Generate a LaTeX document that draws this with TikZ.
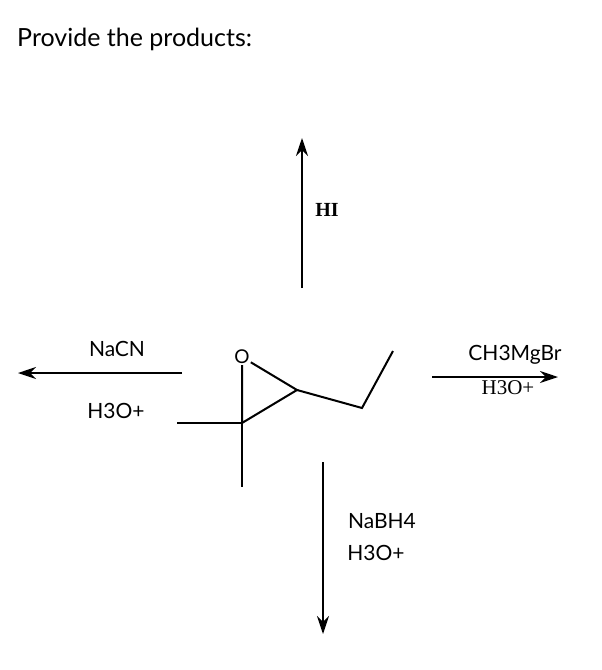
\documentclass[tikz,border=0pt]{standalone}
\usepackage{fontspec}
\setmainfont{Lato}
\newfontfamily\serifx{Liberation Serif}
\usetikzlibrary{arrows.meta}
\begin{document}
\begin{tikzpicture}[x=1pt,y=-1pt,
  bond/.style={line width=2pt},
  rarrow/.style={line width=1.6pt,-{Stealth[length=18pt,width=12pt]}},
  lbl/.style={font=\fontsize{21}{24}\selectfont,inner sep=0pt},
  slbl/.style={font=\serifx\fontsize{21}{24}\selectfont,inner sep=0pt}]
\useasboundingbox[fill=white] (0,0) rectangle (602,670);
\node[anchor=west,inner sep=0pt,font=\fontsize{25}{28}\selectfont] (title) at (17,39) {Provide the products:};
% molecule
\node[inner sep=1pt,font=\fontsize{19}{20}\selectfont] (O) at (242,357) {O};
\coordinate (c1) at (242,423);
\coordinate (c2) at (297,390);
\coordinate (c3) at (362,408);
\coordinate (c4) at (393,351);
\coordinate (m1) at (177,423);
\coordinate (m2) at (242,487);
\draw[bond] (O) -- (c1) -- (c2) -- (O);
\draw[bond] (c2) -- (c3) -- (c4);
\draw[bond] (m1) -- (c1) -- (m2);
% HI
\coordinate (hs) at (302,288); \coordinate (he) at (302,138);
\draw[rarrow] (hs) -- (he);
\node[slbl,font=\serifx\bfseries\fontsize{20}{24}\selectfont] (hi) at (327,210) {HI};
% left
\coordinate (ls) at (182,373); \coordinate (le) at (18,373);
\draw[rarrow] (ls) -- (le);
\node[lbl] (nacn) at (117,349) {NaCN};
\node[lbl] (h1) at (116,411) {H3O+};
% right
\coordinate (rs) at (432,377); \coordinate (re) at (558,377);
\draw[rarrow] (rs) -- (re);
\node[lbl] (grig) at (515,355) {CH3MgBr};
\node[slbl] (h2) at (508,388) {H3O+};
% down
\coordinate (ds) at (323,462); \coordinate (de) at (323,634);
\draw[rarrow] (ds) -- (de);
\node[lbl] (nabh) at (382,521) {NaBH4};
\node[lbl] (h3) at (376,553) {H3O+};
\end{tikzpicture}
\end{document}
